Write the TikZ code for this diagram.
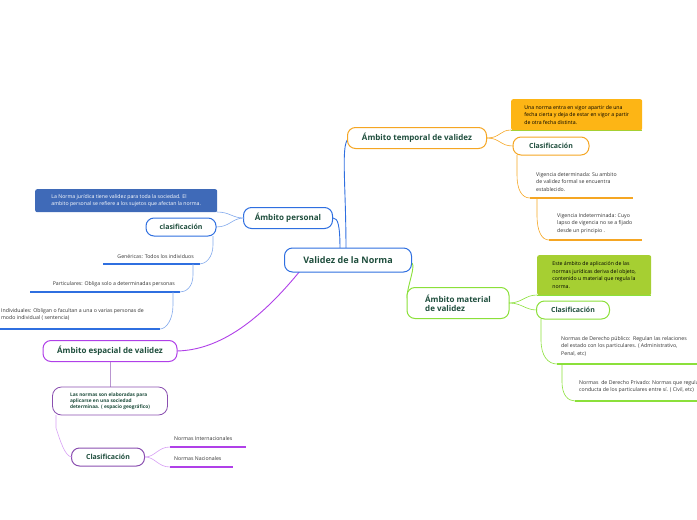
\documentclass[tikz,border=0pt]{standalone}
\usepackage{fontspec}
\setmainfont{Open Sans}
\definecolor{tgreen}{HTML}{1F4E3D}
\definecolor{cblue}{HTML}{2F6FE0}
\definecolor{corange}{HTML}{F5A623}
\definecolor{cgreen}{HTML}{8BE03A}
\definecolor{cpurple}{HTML}{B040E8}
\definecolor{npurple}{HTML}{8A4FB0}
\definecolor{norange}{HTML}{FDB515}
\definecolor{ngreen}{HTML}{A6CF32}
\definecolor{nblue}{HTML}{3F6AB8}
\tikzset{
 main/.style={draw=#1,line width=1pt,rounded corners=8pt,fill=white,font=\bfseries\fontsize{8}{9}\selectfont,text=tgreen,inner sep=4pt},
 note/.style={fill=#1,rounded corners=2pt,font=\fontsize{5.2}{7.5}\selectfont,align=left,inner sep=4pt,anchor=north west},
 leaf/.style={font=\fontsize{5.2}{7.5}\selectfont,align=left,anchor=north west,inner sep=1pt,text=black!80},
 ul/.style={draw=#1,line width=1.6pt},
}
\begin{document}
\begin{tikzpicture}[x=1pt,y=-1pt]
\useasboundingbox (0,0) rectangle (697,520);
% connectors from centre
\draw[cblue,line width=0.9pt] (346,250) .. controls (346,180) and (340,140) .. (350,138);
\draw[cblue,line width=0.9pt] (340,250) .. controls (340,225) and (338,218) .. (333,218);
\draw[cgreen,line width=0.9pt] (410,262) .. controls (420,262) and (400,300) .. (410,302);
\draw[cpurple,line width=0.9pt] (300,271) .. controls (260,320) and (220,350) .. (177,351);
% centre
\node[main=cblue,font=\bfseries\fontsize{9}{10}\selectfont,minimum width=127pt,minimum height=24pt] (c) at (348,260) {Validez de la Norma};
% temporal
\node[main=corange,minimum width=139pt,minimum height=21pt] (t) at (417,138) {Ámbito temporal de validez};
\node[note=norange,minimum width=131pt,minimum height=31pt] (tn) at (511,99) {Una norma entra en vigor apartir de una\\fecha cierta y deja de estar en vigor a partir\\de otra fecha distinta.};
\draw[ul=ngreen,line width=0.8pt] (511,130) -- (642,130);
\node[main=corange,minimum width=76pt,minimum height=18pt,font=\bfseries\fontsize{7}{8}\selectfont] (tc) at (551,146) {Clasificación};
\draw[corange,line width=0.6pt] (487,138) .. controls (500,138) and (500,130) .. (511,130);
\draw[corange,line width=0.6pt] (487,138) .. controls (500,138) and (500,146) .. (513,146);
\node[leaf] (t1) at (535,171) {Vigencia determinada: Su ambito\\de validez formal se encuentra\\establecido.};
\draw[ul=corange] (530,198) -- (633,198);
\draw[corange,line width=0.6pt] (517,155) -- (517,175) .. controls (517,190) and (522,198) .. (530,198);
\node[leaf] (t2) at (556,212) {Vigencia Indeterminada: Cuyo\\lapso de vigencia no se a fijado\\desde un principio .};
\draw[ul=corange] (549,240) -- (642,240);
\draw[corange,line width=0.6pt] (537,198) -- (537,215) .. controls (537,232) and (542,240) .. (549,240);
% material
\node[main=cgreen,minimum width=102pt,minimum height=31pt,align=left] (m) at (458,303) {Ámbito material\\de validez};
\node[note=ngreen,minimum width=114pt,minimum height=40pt] (mn) at (537,255) {Este ámbito de aplicación de las\\normas jurídicas deriva del objeto,\\contenido u material que regula la\\norma.};
\draw[ul=cgreen,line width=0.8pt] (537,295) -- (651,295);
\node[main=cgreen,minimum width=73pt,minimum height=18pt,font=\bfseries\fontsize{7}{8}\selectfont] (mc) at (573,310) {Clasificación};
\draw[cgreen,line width=0.6pt] (509,303) .. controls (522,303) and (525,295) .. (537,295);
\draw[cgreen,line width=0.6pt] (509,303) .. controls (522,303) and (525,310) .. (537,310);
\node[leaf] (m1) at (560,335) {Normas de Derecho público:\ \ Regulan las relaciones\\del estado con los particulares. ( Administrativo,\\Penal, etc)};
\draw[ul=cgreen] (557,364) -- (697,364);
\draw[cgreen,line width=0.6pt] (541,319) -- (541,340) .. controls (541,356) and (548,364) .. (557,364);
\node[leaf] (m2) at (578,379) {Normas\ \ de Derecho Privado: Normas que regulan la\\conducta de los particulares entre sí. ( Civil, etc)};
\draw[ul=cgreen] (575,401) -- (697,401);
\draw[cgreen,line width=0.6pt] (562,364) -- (562,382) .. controls (562,395) and (568,401) .. (575,401);
% personal
\node[main=cblue,minimum width=89pt,minimum height=21pt] (p) at (288,218) {Ámbito personal};
\node[note=nblue,text=white,minimum width=182pt,minimum height=23pt] (pn) at (35,189) {La Norma jurídica tiene validez para toda la sociedad. El\\ambito personal se refiere a los sujetos que afectan la norma.};
\draw[cblue!60,line width=0.6pt] (244,218) .. controls (232,218) and (230,212) .. (217,212);
\draw[cblue!60,line width=0.6pt] (244,218) .. controls (232,218) and (230,227) .. (216,227);
\node[main=cblue,minimum width=70pt,minimum height=18pt,font=\bfseries\fontsize{7}{8}\selectfont] (pc) at (181,227) {clasificación};
\node[leaf,anchor=east] (p1) at (195,257) {Genéricas: Todos los individuos};
\draw[ul=cblue] (103,264) -- (200,264);
\draw[cblue!60,line width=0.6pt] (213,236) -- (213,245) .. controls (213,258) and (205,264) .. (200,264);
\node[leaf,anchor=east] (p2) at (176,284) {Particulares: Obliga solo a determinadas personas};
\draw[ul=cblue] (30,292) -- (180,292);
\draw[cblue!60,line width=0.6pt] (193,264) -- (193,275) .. controls (193,287) and (186,292) .. (180,292);
\node[leaf,anchor=north east,align=left] (p3) at (145,307) {Individuales: Obligan o facultan a una o varias personas de\\modo individual ( sentencia)};
\draw[ul=cblue] (0,329) -- (160,329);
\draw[cblue!60,line width=0.6pt] (173,292) -- (173,305) .. controls (173,320) and (166,329) .. (160,329);
% espacial
\node[main=cpurple,minimum width=134pt,minimum height=21pt] (e) at (110,351) {Ámbito espacial de validez};
\draw[npurple!60,line width=0.6pt] (110,362) -- (110,387);
\node[draw=npurple,line width=0.8pt,rounded corners=9pt,minimum width=115pt,minimum height=28pt,font=\bfseries\fontsize{4.8}{6}\selectfont,text=tgreen,align=left] (en) at (110,401) {Las normas son elaboradas para\\aplicarse en una sociedad\\determinaa. ( espacio geográfico)};
\node[main=npurple,minimum width=73pt,minimum height=18pt,font=\bfseries\fontsize{7}{8}\selectfont] (ec) at (108,457) {Clasificación};
\draw[cpurple!50,line width=0.6pt] (56,415) -- (56,428) .. controls (60,440) and (65,457) .. (72,457);
\node[leaf] (e1) at (173,435) {Normas Internacionales};
\draw[ul=cpurple] (170,447) -- (246,447);
\node[leaf] (e2) at (173,455) {Normas Nacionales};
\draw[ul=cpurple] (170,467) -- (233,467);
\draw[cpurple!50,line width=0.6pt] (145,457) .. controls (155,457) and (158,447) .. (170,447);
\draw[cpurple!50,line width=0.6pt] (145,457) .. controls (155,457) and (158,467) .. (170,467);
\end{tikzpicture}
\end{document}
